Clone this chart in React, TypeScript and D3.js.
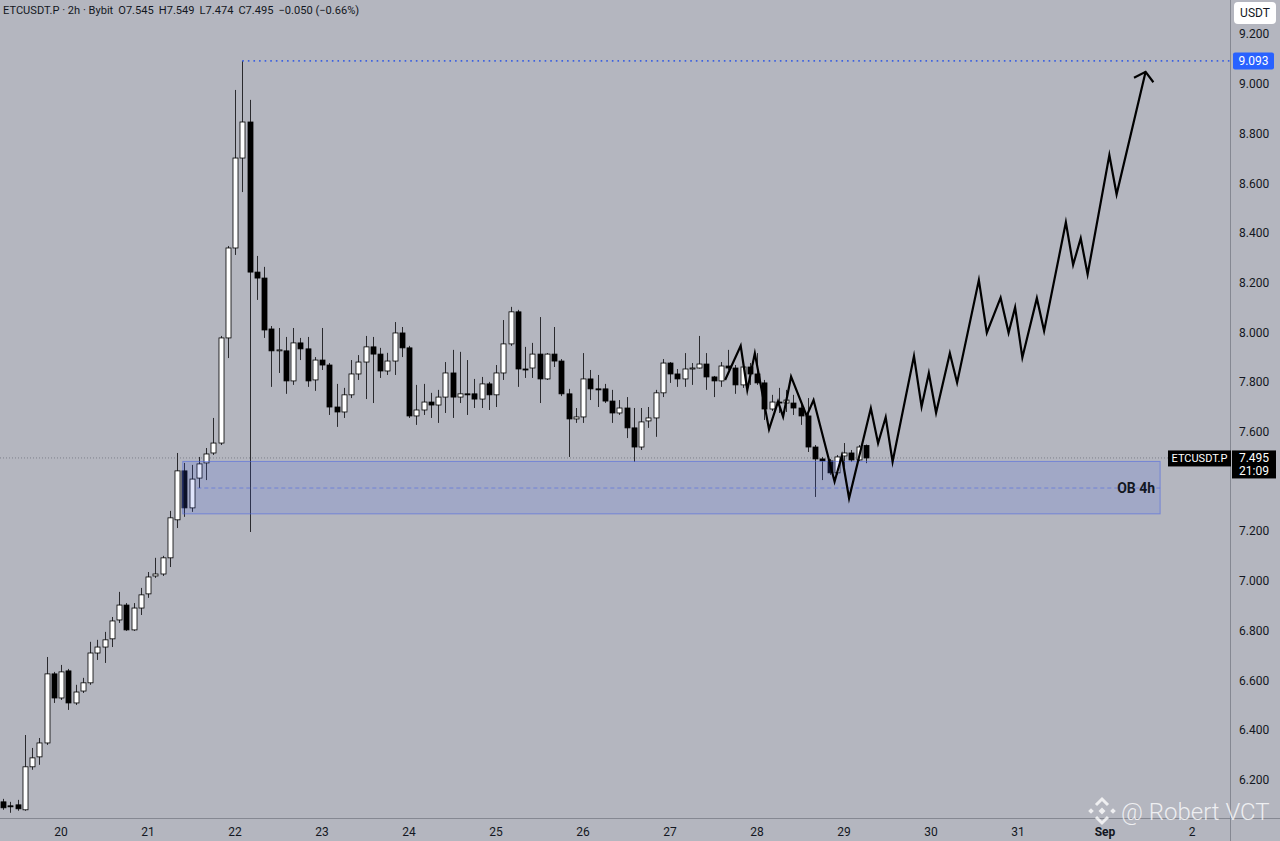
import React from 'react';
import * as d3 from 'd3';

const W = 1280;
const H = 841;
const PLOT_RIGHT = 1230;
const PLOT_BOTTOM = 818;

const BAR_MS = 2 * 3600 * 1000;
const startTime = Date.UTC(2024, 7, 19, 8);

const opens = [6.111,6.095,6.099,6.079,6.252,6.292,6.348,6.626,6.529,6.638,6.509,6.557,6.590,6.710,6.734,6.767,6.843,6.903,6.803,6.891,6.948,7.020,7.028,7.093,7.246,7.443,7.294,7.414,7.475,7.515,7.555,7.978,8.340,8.702,8.847,8.243,8.219,8.014,7.926,7.926,7.805,7.958,7.934,7.809,7.889,7.869,7.700,7.680,7.749,7.833,7.881,7.942,7.913,7.845,7.885,7.998,7.938,7.664,7.688,7.720,7.708,7.740,7.837,7.740,7.753,7.753,7.732,7.793,7.749,7.837,7.954,8.083,7.853,7.857,7.913,7.813,7.913,7.885,7.753,7.652,7.660,7.813,7.773,7.773,7.724,7.676,7.696,7.616,7.539,7.644,7.656,7.757,7.877,7.833,7.813,7.853,7.857,7.873,7.821,7.805,7.865,7.857,7.789,7.861,7.833,7.797,7.692,7.720,7.716,7.716,7.696,7.664,7.539,7.491,7.483,7.435,7.503,7.515,7.487,7.545];
const highs = [6.123,6.111,6.119,6.380,6.328,6.368,6.694,6.634,6.662,6.646,6.582,6.610,6.755,6.763,6.795,6.855,6.956,6.911,6.911,6.972,7.036,7.093,7.101,7.282,7.515,7.475,7.467,7.499,7.535,7.656,7.986,8.348,8.976,9.093,8.936,8.308,8.264,8.026,8.018,7.982,8.018,7.978,7.982,7.901,8.018,7.877,7.793,7.777,7.889,7.909,7.986,7.982,7.938,7.918,8.042,8.022,7.946,7.789,7.793,7.757,7.769,7.881,7.930,7.922,7.889,7.813,7.821,7.801,7.869,8.050,8.103,8.091,7.942,7.958,8.062,7.917,8.022,7.893,7.773,7.696,7.917,7.849,7.829,7.793,7.769,7.728,7.740,7.696,7.696,7.700,7.769,7.893,7.881,7.853,7.917,7.877,7.986,7.917,7.825,7.881,7.930,7.869,7.877,7.877,7.917,7.809,7.749,7.777,7.769,7.749,7.724,7.736,7.547,7.499,7.491,7.507,7.555,7.527,7.547,7.549];
const lows = [6.079,6.067,6.075,6.075,6.240,6.260,6.340,6.509,6.521,6.481,6.501,6.549,6.582,6.682,6.670,6.734,6.831,6.799,6.799,6.863,6.932,7.012,7.020,7.056,7.213,7.258,7.278,7.374,7.406,7.507,7.547,7.897,8.312,8.565,7.197,8.131,7.978,7.781,7.837,7.753,7.789,7.889,7.781,7.765,7.849,7.668,7.620,7.656,7.736,7.809,7.732,7.716,7.817,7.829,7.829,7.901,7.656,7.628,7.668,7.656,7.636,7.676,7.656,7.716,7.668,7.696,7.696,7.688,7.700,7.809,7.946,7.781,7.817,7.817,7.716,7.809,7.861,7.744,7.499,7.636,7.636,7.728,7.700,7.716,7.636,7.668,7.575,7.479,7.527,7.616,7.580,7.740,7.797,7.781,7.781,7.789,7.855,7.769,7.740,7.781,7.849,7.753,7.777,7.789,7.789,7.648,7.684,7.676,7.680,7.668,7.628,7.519,7.338,7.406,7.427,7.427,7.459,7.479,7.483,7.474];
const closes = [6.087,6.093,6.083,6.252,6.288,6.348,6.626,6.529,6.634,6.509,6.553,6.590,6.710,6.734,6.763,6.839,6.903,6.803,6.891,6.944,7.016,7.028,7.093,7.254,7.443,7.294,7.410,7.471,7.511,7.555,7.978,8.340,8.702,8.847,8.243,8.219,8.010,7.926,7.930,7.805,7.958,7.934,7.805,7.889,7.869,7.700,7.680,7.749,7.833,7.881,7.942,7.913,7.845,7.885,7.998,7.938,7.664,7.688,7.720,7.708,7.740,7.837,7.740,7.753,7.751,7.732,7.793,7.749,7.837,7.954,8.083,7.853,7.851,7.913,7.813,7.913,7.885,7.753,7.652,7.660,7.813,7.773,7.771,7.724,7.676,7.696,7.616,7.539,7.640,7.656,7.757,7.877,7.833,7.813,7.853,7.857,7.873,7.821,7.805,7.865,7.857,7.789,7.861,7.833,7.797,7.692,7.720,7.716,7.728,7.696,7.664,7.539,7.491,7.483,7.435,7.499,7.515,7.487,7.539,7.495];

// projected path (bar position, price)
const projBars = [99.6,101.75,102.66,103.7,105.66,106.9,107.6,108.7,110.85,111.8,114.7,115.7,116.7,119.7,120.7,121.75,122.7,125.65,126.7,127.7,128.7,130.6,131.6,134.6,135.7,137.6,138.7,139.6,140.6,142.6,143.6,146.6,147.6,148.65,149.6,152.6,153.6,157.6];
const projPrices = [7.809,7.946,7.769,7.916,7.610,7.722,7.661,7.822,7.664,7.728,7.400,7.503,7.333,7.695,7.554,7.659,7.480,7.905,7.701,7.836,7.677,7.916,7.798,8.211,7.999,8.140,7.999,8.101,7.899,8.138,8.006,8.443,8.272,8.379,8.234,8.714,8.556,9.049];

const priceTicks = [6.2,6.4,6.6,6.8,7.0,7.2,7.4,7.6,7.8,8.0,8.2,8.4,8.6,8.8,9.0,9.2];
const dayTicks = [
  Date.UTC(2024,7,20), Date.UTC(2024,7,21), Date.UTC(2024,7,22), Date.UTC(2024,7,23),
  Date.UTC(2024,7,24), Date.UTC(2024,7,25), Date.UTC(2024,7,26), Date.UTC(2024,7,27),
  Date.UTC(2024,7,28), Date.UTC(2024,7,29), Date.UTC(2024,7,30), Date.UTC(2024,7,31),
  Date.UTC(2024,8,1), Date.UTC(2024,8,2),
];
const dayLabels = ['20','21','22','23','24','25','26','27','28','29','30','31','Sep','2'];

const obTop = 7.481;
const obBottom = 7.270;
const obMid = 7.374;
const obStartBar = 24.8;
const obMidStartBar = 26.8;
const obEndBar = 159.6;
const obLabel = 'OB 4h';

const highLevel = 9.093;
const highLevelBar = 33;
const lastPrice = 7.495;
const countdown = '21:09';
const symbol = 'ETCUSDT.P';
const headerParts = ['ETCUSDT.P · 2h · Bybit', 'O7.545', 'H7.549', 'L7.474', 'C7.495', '−0.050 (−0.66%)'];

const BG = '#b4b6bf';
const TEXT = '#131722';
const FONT = 'Roboto, "Liberation Sans", sans-serif';

const barTime = (b: number) => new Date(startTime + b * BAR_MS);

export default function App() {
  const x = d3.scaleUtc()
    .domain([barTime(-0.414), barTime(169.24)])
    .range([0, PLOT_RIGHT]);
  const y = d3.scaleLinear().domain([6.046, 9.338]).range([PLOT_BOTTOM, 0]);
  const fmt = d3.format('.3f');

  const bodyW = 5;
  const candles = opens.map((o, i) => {
    const c = closes[i];
    const cx = Math.round(x(barTime(i))) + 0.5;
    const up = c >= o;
    const top = y(Math.max(o, c));
    const bot = y(Math.min(o, c));
    return (
      <g key={i}>
        <line x1={cx} x2={cx} y1={y(highs[i])} y2={y(lows[i])} stroke="#2a2a2e" strokeWidth={1} />
        <rect x={cx - bodyW / 2} y={top} width={bodyW} height={Math.max(1, bot - top)}
          fill={up ? '#ffffff' : '#000000'} stroke="#000000" strokeWidth={0.8} />
      </g>
    );
  });

  const projPts: [number, number][] = projBars.map((b, i) => [x(barTime(b)), y(projPrices[i])]);
  const line = d3.line();
  const n = projPts.length;
  const tip = projPts[n - 1];
  const prev = projPts[n - 2];
  const ang = Math.atan2(prev[1] - tip[1], prev[0] - tip[0]);
  const wl = 13;
  const wa = (50 * Math.PI) / 180;
  const w1: [number, number] = [tip[0] + wl * Math.cos(ang + wa), tip[1] + wl * Math.sin(ang + wa)];
  const w2: [number, number] = [tip[0] + wl * Math.cos(ang - wa), tip[1] + wl * Math.sin(ang - wa)];

  const obX0 = x(barTime(obStartBar));
  const obX1 = x(barTime(obEndBar));
  const obMidX0 = x(barTime(obMidStartBar));

  const yLast = y(lastPrice);
  const yHigh = y(highLevel);

  // watermark logo geometry
  const lx = 1102, ly = 811;
  const diamond = (cx: number, cy: number, r: number) =>
    `M${cx},${cy - r}L${cx + r},${cy}L${cx},${cy + r}L${cx - r},${cy}Z`;

  return (
    <svg width={W} height={H} style={{ position: 'absolute', left: 0, top: 0, display: 'block' }}
      fontFamily={FONT}>
      <rect x={0} y={0} width={W} height={H} fill={BG} />

      {/* last price dotted line */}
      <line x1={0} x2={PLOT_RIGHT} y1={yLast} y2={yLast} stroke="#7d818c" strokeWidth={1} strokeDasharray="1 2" />

      {candles}

      {/* order block */}
      <rect x={obX0} y={y(obTop)} width={obX1 - obX0} height={y(obBottom) - y(obTop)}
        fill="rgba(70,100,235,0.17)" stroke="rgba(80,105,225,0.6)" strokeWidth={1} />
      <line x1={obMidX0} x2={obX1} y1={y(obMid)} y2={y(obMid)} stroke="rgba(80,105,225,0.6)"
        strokeWidth={1} strokeDasharray="4 3" />
      <text x={obX1 - 5} y={y(obMid)} dy="0.35em" textAnchor="end" fontSize={14} fontWeight={700} fill={TEXT}>
        {obLabel}
      </text>

      {/* high level dotted line */}
      <line x1={x(barTime(highLevelBar))} x2={PLOT_RIGHT} y1={yHigh} y2={yHigh}
        stroke="#3d62e0" strokeWidth={1.6} strokeDasharray="1.6 4" />

      {/* projected path */}
      <path d={line(projPts) || ''} fill="none" stroke="#000" strokeWidth={2.2} strokeLinejoin="miter" strokeMiterlimit={10} />
      <path d={line([w1, tip, w2]) || ''} fill="none" stroke="#000" strokeWidth={2.2} strokeLinejoin="miter" />

      {/* header */}
      <text x={3} y={14} fontSize={11.1} fill={TEXT}>
        {headerParts.map((p, i) => (
          <tspan key={i} dx={i === 0 ? 0 : 5}>{p}</tspan>
        ))}
      </text>

      {/* axes */}
      <line x1={PLOT_RIGHT + 0.5} x2={PLOT_RIGHT + 0.5} y1={0} y2={H} stroke="#858892" strokeWidth={1} />
      <line x1={0} x2={W} y1={PLOT_BOTTOM + 0.5} y2={PLOT_BOTTOM + 0.5} stroke="#858892" strokeWidth={1} />

      {priceTicks.filter((p) => Math.abs(y(p) - yLast) > 30 || p > lastPrice).map((p) => (
        <text key={p} x={1239} y={y(p)} dy="0.35em" fontSize={12} fill={TEXT}>{fmt(p)}</text>
      ))}
      {dayTicks.map((t, i) => (
        <text key={t} x={x(new Date(t))} y={832} dy="0.35em" textAnchor="middle" fontSize={12}
          fontWeight={dayLabels[i] === 'Sep' ? 700 : 400} fill={TEXT}>{dayLabels[i]}</text>
      ))}

      {/* USDT box */}
      <rect x={1234} y={2} width={42} height={22} rx={4} fill="#ffffff" />
      <text x={1255} y={13} dy="0.35em" textAnchor="middle" fontSize={12} fill={TEXT}>USDT</text>

      {/* high label */}
      <rect x={1233} y={yHigh - 8.5} width={41} height={17} rx={2} fill="#2962ff" />
      <text x={1253.5} y={yHigh} dy="0.35em" textAnchor="middle" fontSize={12} fill="#ffffff">{fmt(highLevel)}</text>

      {/* last price label */}
      <rect x={1168} y={yLast - 7.5} width={63} height={16} fill="#000" />
      <text x={1199.5} y={yLast} dy="0.35em" textAnchor="middle" fontSize={11} fill="#ffffff">{symbol}</text>
      <rect x={1232} y={yLast - 7.5} width={44} height={28} fill="#000" />
      <text x={1254} y={yLast} dy="0.35em" textAnchor="middle" fontSize={12} fill="#ffffff">{fmt(lastPrice)}</text>
      <text x={1254} y={yLast + 13} dy="0.35em" textAnchor="middle" fontSize={12} fill="#ffffff">{countdown}</text>

      {/* watermark */}
      <g fill="rgba(255,255,255,0.78)" stroke="none">
        <path d={diamond(lx, ly, 3.5)} />
        <path d={diamond(lx - 11, ly, 2.8)} />
        <path d={diamond(lx + 11, ly, 2.8)} />
      </g>
      <g fill="none" stroke="rgba(255,255,255,0.78)" strokeWidth={3}>
        <path d={`M${lx - 6},${ly - 6}L${lx},${ly - 12}L${lx + 6},${ly - 6}`} />
        <path d={`M${lx - 6},${ly + 6}L${lx},${ly + 12}L${lx + 6},${ly + 6}`} />
      </g>
      <text x={1121} y={812} dy="0.35em" fontSize={24} fontWeight={300} fill="rgba(255,255,255,0.78)">@ Robert VCT</text>
    </svg>
  );
}
